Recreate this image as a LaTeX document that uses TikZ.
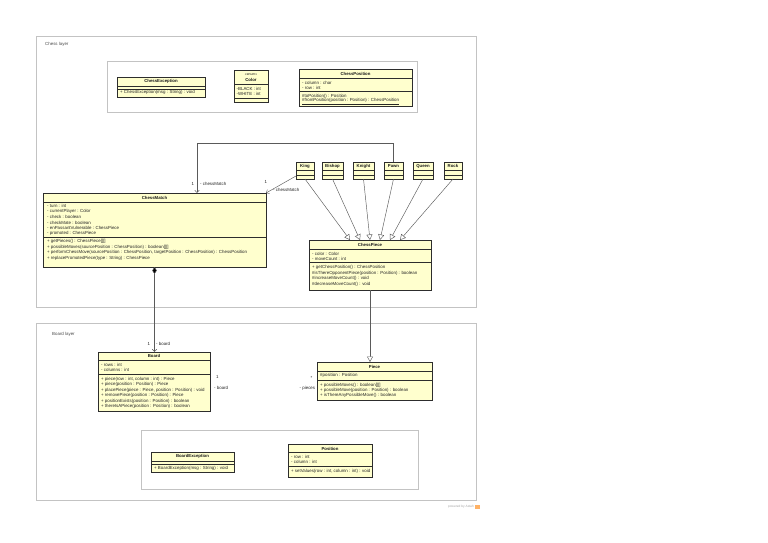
\documentclass[tikz,border=0pt]{standalone}
\usepackage{fontspec}
\setmainfont{Liberation Sans}
\usetikzlibrary{arrows.meta,calc}
\definecolor{clsfill}{RGB}{255,255,206}
\definecolor{clsline}{RGB}{45,45,45}
\definecolor{pkgline}{RGB}{195,195,195}
\definecolor{conline}{RGB}{90,90,90}
\newcounter{tn}
\newcommand\rt[3]{\stepcounter{tn}\node[txt] (t\thetn) at (#1,#2) {#3};}
\newcommand\ttl[3]{\stepcounter{tn}\node[ttltxt] (t\thetn) at (#1,#2) {#3};}
\newcommand\rbox[6]{\node[#1, minimum width={#5pt-#3pt}, minimum height={#6pt-#4pt}] (#2) at ({(#3+#5)/2},{(#4+#6)/2}) {};}
\newcommand\sep[2]{\draw[sepl] (#1.west |- 0,#2) -- (#1.east |- 0,#2);}
\newcommand\pcs[4]{\rbox{clsbox}{#1}{#2}{162}{#3}{179}\ttl{{(#2+#3)/2}}{166.2}{#4}\sep{#1}{170.5}\sep{#1}{174.8}}
\tikzset{
  clsbox/.style={rectangle, draw=clsline, fill=clsfill, line width=0.65pt, inner sep=0pt, outer sep=0pt},
  pkg/.style={rectangle, draw=pkgline, line width=0.7pt, inner sep=0pt, outer sep=0pt},
  sepl/.style={draw=clsline, line width=0.5pt},
  txt/.style={anchor=west, inner sep=0pt, font=\fontsize{4.4}{4.4}\selectfont, text=black!85},
  ttltxt/.style={anchor=center, inner sep=0pt, font=\fontsize{4.3}{4.3}\selectfont\bfseries, text=black!90},
  pkglab/.style={anchor=west, inner sep=0pt, font=\fontsize{4.4}{4.4}\selectfont, text=black!70},
  nav/.style={draw=conline, line width=0.45pt, -{Straight Barb[length=2.5pt,width=4.5pt]}},
  gen/.style={draw=conline, line width=0.45pt, -{Triangle[open,fill=white,length=5.5pt,width=6pt]}},
  comp/.style={draw=conline, line width=0.45pt, {Diamond[length=7pt,width=4.5pt,fill=black]}-{Straight Barb[length=2.5pt,width=4.5pt]}},
  assoc/.style={draw=conline, line width=0.45pt},
}
\begin{document}
\begin{tikzpicture}[x=1pt,y=-1pt]
\useasboundingbox[fill=white] (0,0) rectangle (768,543);

% ===== Chess layer =====
\rbox{pkg}{chessL}{36}{36}{476}{307}
\stepcounter{tn}\node[pkglab] (chessLlab) at (45,44.5) {Chess layer};
\rbox{pkg}{topgrp}{107}{61}{417}{112}

% ChessException
\rbox{clsbox}{cex}{117}{77}{205}{97}
\ttl{161}{81.5}{ChessException}
\sep{cex}{86}\sep{cex}{89}
\rt{120}{92.8}{+ ChessException(msg : String) : void}

% Color
\rbox{clsbox}{color}{234}{70}{268}{102}
\ttl{251}{74.3}{\fontsize{3.4}{3.4}\selectfont\mdseries\textless\textless enum\textgreater\textgreater}
\ttl{251}{80}{Color}
\sep{color}{84.5}
\rt{236.5}{88.8}{-BLACK : int}
\rt{236.5}{93.8}{-WHITE : int}
\sep{color}{97.8}

% ChessPosition
\rbox{clsbox}{cpos}{299}{69}{412}{106}
\ttl{355.5}{73.6}{ChessPosition}
\sep{cpos}{78}
\rt{302}{82.5}{- column : char}
\rt{302}{87.5}{- row : int}
\sep{cpos}{91.5}
\rt{302}{96}{\#toPosition() : Position}
\rt{302}{101.3}{\underline{\#fromPosition(position : Position) : ChessPosition}}

% Pieces
\pcs{king}{296}{314}{King}
\pcs{bishop}{322}{343}{Bishop}
\pcs{knight}{353}{374}{Knight}
\pcs{pawn}{384}{403}{Pawn}
\pcs{queen}{413}{433}{Queen}
\pcs{rock}{444}{462}{Rock}

% ChessMatch
\rbox{clsbox}{cm}{43}{193}{266}{267}
\ttl{154.5}{197.5}{ChessMatch}
\sep{cm}{202}
\rt{47}{206}{- turn : int}
\rt{47}{211.5}{- currentPlayer : Color}
\rt{47}{217}{- check : boolean}
\rt{47}{222.5}{- checkMate : boolean}
\rt{47}{228}{- enPassantVulnerable : ChessPiece}
\rt{47}{233.5}{- promoted : ChessPiece}
\sep{cm}{237}
\rt{47}{241.5}{+ getPieces() : ChessPiece[][]}
\rt{47}{247}{+ possibleMoves(sourcePosition : ChessPosition) : boolean[][]}
\rt{47}{252.5}{+ performChessMove(sourcePosition : ChessPosition, targetPosition : ChessPosition) : ChessPosition}
\rt{47}{258}{+ replacePromotedPiece(type : String) : ChessPiece}

% ChessPiece
\rbox{clsbox}{cp}{309}{240}{431}{290}
\ttl{370}{244.5}{ChessPiece}
\sep{cp}{249}
\rt{312}{253.5}{- color : Color}
\rt{312}{258.5}{- moveCount : int}
\sep{cp}{262.5}
\rt{312}{267.5}{+ getChessPosition() : ChessPosition}
\rt{312}{273}{\#isThereOpponentPiece(position : Position) : boolean}
\rt{312}{278.5}{\#increaseMoveCount() : void}
\rt{312}{284}{\#decreaseMoveCount() : void}

% ===== Board layer =====
\rbox{pkg}{boardL}{36}{323}{476}{500}
\stepcounter{tn}\node[pkglab] (boardLlab) at (52,334) {Board layer};

% Board
\rbox{clsbox}{board}{98}{352}{210}{411}
\ttl{154}{356.3}{Board}
\sep{board}{360.5}
\rt{101}{365}{- rows : int}
\rt{101}{370}{- columns : int}
\sep{board}{374}
\rt{101}{379}{+ piece(row : int, column : int) : Piece}
\rt{101}{384.5}{+ piece(position : Position) : Piece}
\rt{101}{390}{+ placePiece(piece : Piece, position : Position) : void}
\rt{101}{395.5}{+ removePiece(position : Position) : Piece}
\rt{101}{401}{+ positionExists(position : Position) : boolean}
\rt{101}{406.5}{+ thereIsAPiece(position : Position) : boolean}

% Piece
\rbox{clsbox}{piece}{317}{362}{432}{400}
\ttl{374.5}{366.8}{Piece}
\sep{piece}{371.3}
\rt{320}{375.8}{\#position : Position}
\sep{piece}{380.3}
\rt{320}{385}{+ possibleMoves() : boolean[][]}
\rt{320}{390}{+ possibleMove(position : Position) : boolean}
\rt{320}{395}{+ isThereAnyPossibleMove() : boolean}

% bottom group
\rbox{pkg}{botgrp}{141}{430}{418}{489}

% BoardException
\rbox{clsbox}{bex}{151}{452}{234}{472}
\ttl{192.5}{456.5}{BoardException}
\sep{bex}{461}\sep{bex}{464}
\rt{154}{468}{+ BoardException(msg : String) : void}

% Position
\rbox{clsbox}{pos}{288}{444}{372}{477}
\ttl{330}{448.5}{Position}
\sep{pos}{452.5}
\rt{291}{457}{- row : int}
\rt{291}{462}{- column : int}
\sep{pos}{466}
\rt{291}{471}{+ setValues(row : int, column : int) : void}

% ===== connectors =====
\coordinate (bend1) at (197,143);
\draw[nav] (pawn.north) |- (bend1) -- (bend1 |- cm.north);
\draw[nav] ($(king.south west)+(0,-3)$) -- (cm.north east);
\foreach \p/\dx in {king/41,bishop/51,knight/61,pawn/71,queen/81,rock/91}
  \draw[gen] (\p.south) -- ($(cp.north west)+(\dx,0)$);
\draw[comp] (cm.south) -- (cm.south |- board.north);
\draw[gen] (cp.south) -- (cp.south |- piece.north);
\draw[assoc] ($(board.east)+(0,3.5)$) -- ($(board.east)+(0,3.5)$ -| piece.west);

% association labels
\rt{191.5}{184}{1}
\rt{200}{184}{- chessMatch}
\rt{264.5}{182}{1}
\rt{273}{190}{- chessMatch}
\rt{147.5}{344}{1}
\rt{156}{344}{- board}
\rt{216}{377}{1}
\rt{214}{388}{- board}
\rt{310.5}{378}{*}
\rt{299.5}{388}{- pieces}

% footer
\stepcounter{tn}\node[anchor=east, inner sep=0pt, font=\fontsize{3.2}{3.2}\selectfont, text=black!35] (powered) at (474,507) {powered by Astah};
\fill[orange!60] (475,505) rectangle (479.5,509);
\end{tikzpicture}
\end{document}
